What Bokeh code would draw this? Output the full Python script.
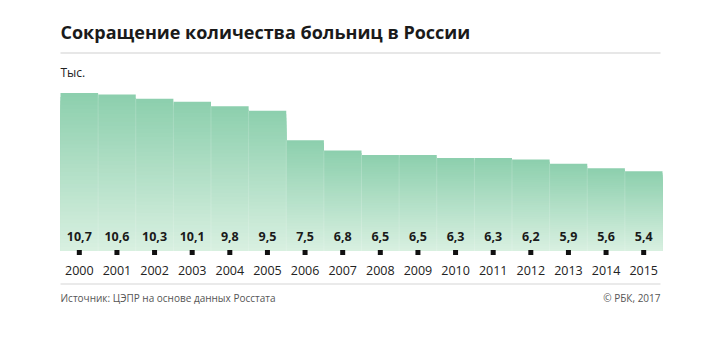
from bokeh.plotting import figure
from bokeh.models import ColumnDataSource, Range1d
from bokeh.core.properties import value
from bokeh.embed import file_html
from bokeh.resources import INLINE

# ---- data ----
years = ["2000", "2001", "2002", "2003", "2004", "2005", "2006", "2007",
         "2008", "2009", "2010", "2011", "2012", "2013", "2014", "2015"]
hospitals = [10.7, 10.6, 10.3, 10.1, 9.8, 9.5, 7.5, 6.8,
             6.5, 6.5, 6.3, 6.3, 6.2, 5.9, 5.6, 5.4]
labels = [f"{v:.1f}".replace(".", ",") for v in hospitals]

title = "Сокращение количества больниц в России"
unit = "Тыс."
source_txt = "Источник: ЦЭПР на основе данных Росстата"
credit = "© РБК, 2017"

# ---- layout (pixel geometry) ----
W, H = 720, 345
left_px, bar_w_px = 60, 37.625      # bars start at x=60, each 37.625px wide
base_px, unit_px = 250.5, 14.77     # value 0 at y=250.5 from top, px per unit

def ypx(py):  # convert pixel-from-top to data y
    return (base_px - py) / unit_px

p = figure(width=W, height=H, output_backend="svg", toolbar_location=None,
           min_border=0, min_border_left=0, min_border_right=0,
           min_border_top=0, min_border_bottom=0,
           x_range=Range1d(-left_px / bar_w_px, (W - left_px) / bar_w_px),
           y_range=Range1d(-(H - base_px) / unit_px, base_px / unit_px))
p.axis.visible = False
p.grid.visible = False
p.outline_line_color = None
p.background_fill_color = "white"
p.border_fill_color = "white"

# ---- gradient bars: nested quads from 0 up, darkest (full height) first ----
top_c = (0x8c, 0xcf, 0xad)
bot_c = (0xd9, 0xf0, 0xe1)
N = 40
ql, qr, qb, qt, qc = [], [], [], [], []
for k in range(N, 0, -1):
    f = (k - 0.5) / N
    c = tuple(int(round(bot_c[j] + (top_c[j] - bot_c[j]) * f)) for j in range(3))
    col = "#%02x%02x%02x" % c
    for i, v in enumerate(hospitals):
        ql.append(i); qr.append(i + 1)
        qb.append(0); qt.append(v * k / N)
        qc.append(col)
p.quad(left=ql, right=qr, bottom=qb, top=qt, fill_color=qc, line_color=None)

# faint separators between bars
sx, sy1 = [], []
for i in range(1, len(hospitals)):
    sx.append(i)
    sy1.append(min(hospitals[i - 1], hospitals[i]))
p.segment(x0=sx, y0=[0] * len(sx), x1=sx, y1=sy1, line_color="white",
          line_alpha=0.18, line_width=1)

src = ColumnDataSource(dict(x=[i + 0.5 for i in range(len(years))],
                            year=years, lab=labels))

# value labels
p.text(x="x", y=ypx(236), text="lab", source=src, text_align="center",
       text_baseline="middle", text_font=value("Open Sans"),
       text_font_style="bold", text_font_size=value("12.5px"), text_color="#1a1a1a")

# tick squares
p.scatter(x="x", y=ypx(252), source=src, marker="square", size=5,
          fill_color="#111111", line_color=None)

# year labels
p.text(x="x", y=ypx(269.5), text="year", source=src, text_align="center",
       text_baseline="middle", text_font=value("Open Sans"),
       text_font_size=value("12.5px"), text_color="#222222")

# ---- title, rules, notes ----
x_left = 0
x_right = (660 - left_px) / bar_w_px
p.text(x=[x_left], y=[ypx(31)], text=[title], text_align="left",
       text_baseline="middle", text_font=value("Open Sans"),
       text_font_style="bold", text_font_size=value("18px"), text_color="#1a1a1a")
p.segment(x0=[x_left], y0=[ypx(52.5)], x1=[x_right], y1=[ypx(52.5)],
          line_color="#cfcfcf", line_width=1)
p.text(x=[x_left], y=[ypx(72)], text=[unit], text_align="left",
       text_baseline="middle", text_font=value("Open Sans"),
       text_font_size=value("12px"), text_color="#222222")
p.segment(x0=[x_left], y0=[ypx(283.5)], x1=[x_right], y1=[ypx(283.5)],
          line_color="#d5d5d5", line_width=1)
p.text(x=[x_left], y=[ypx(297)], text=[source_txt], text_align="left",
       text_baseline="middle", text_font=value("Open Sans"),
       text_font_size=value("10px"), text_color="#555555")
p.text(x=[x_right], y=[ypx(297)], text=[credit], text_align="right",
       text_baseline="middle", text_font=value("Open Sans"),
       text_font_size=value("10px"), text_color="#555555")

open("out.html", "w").write(file_html(p, INLINE))
